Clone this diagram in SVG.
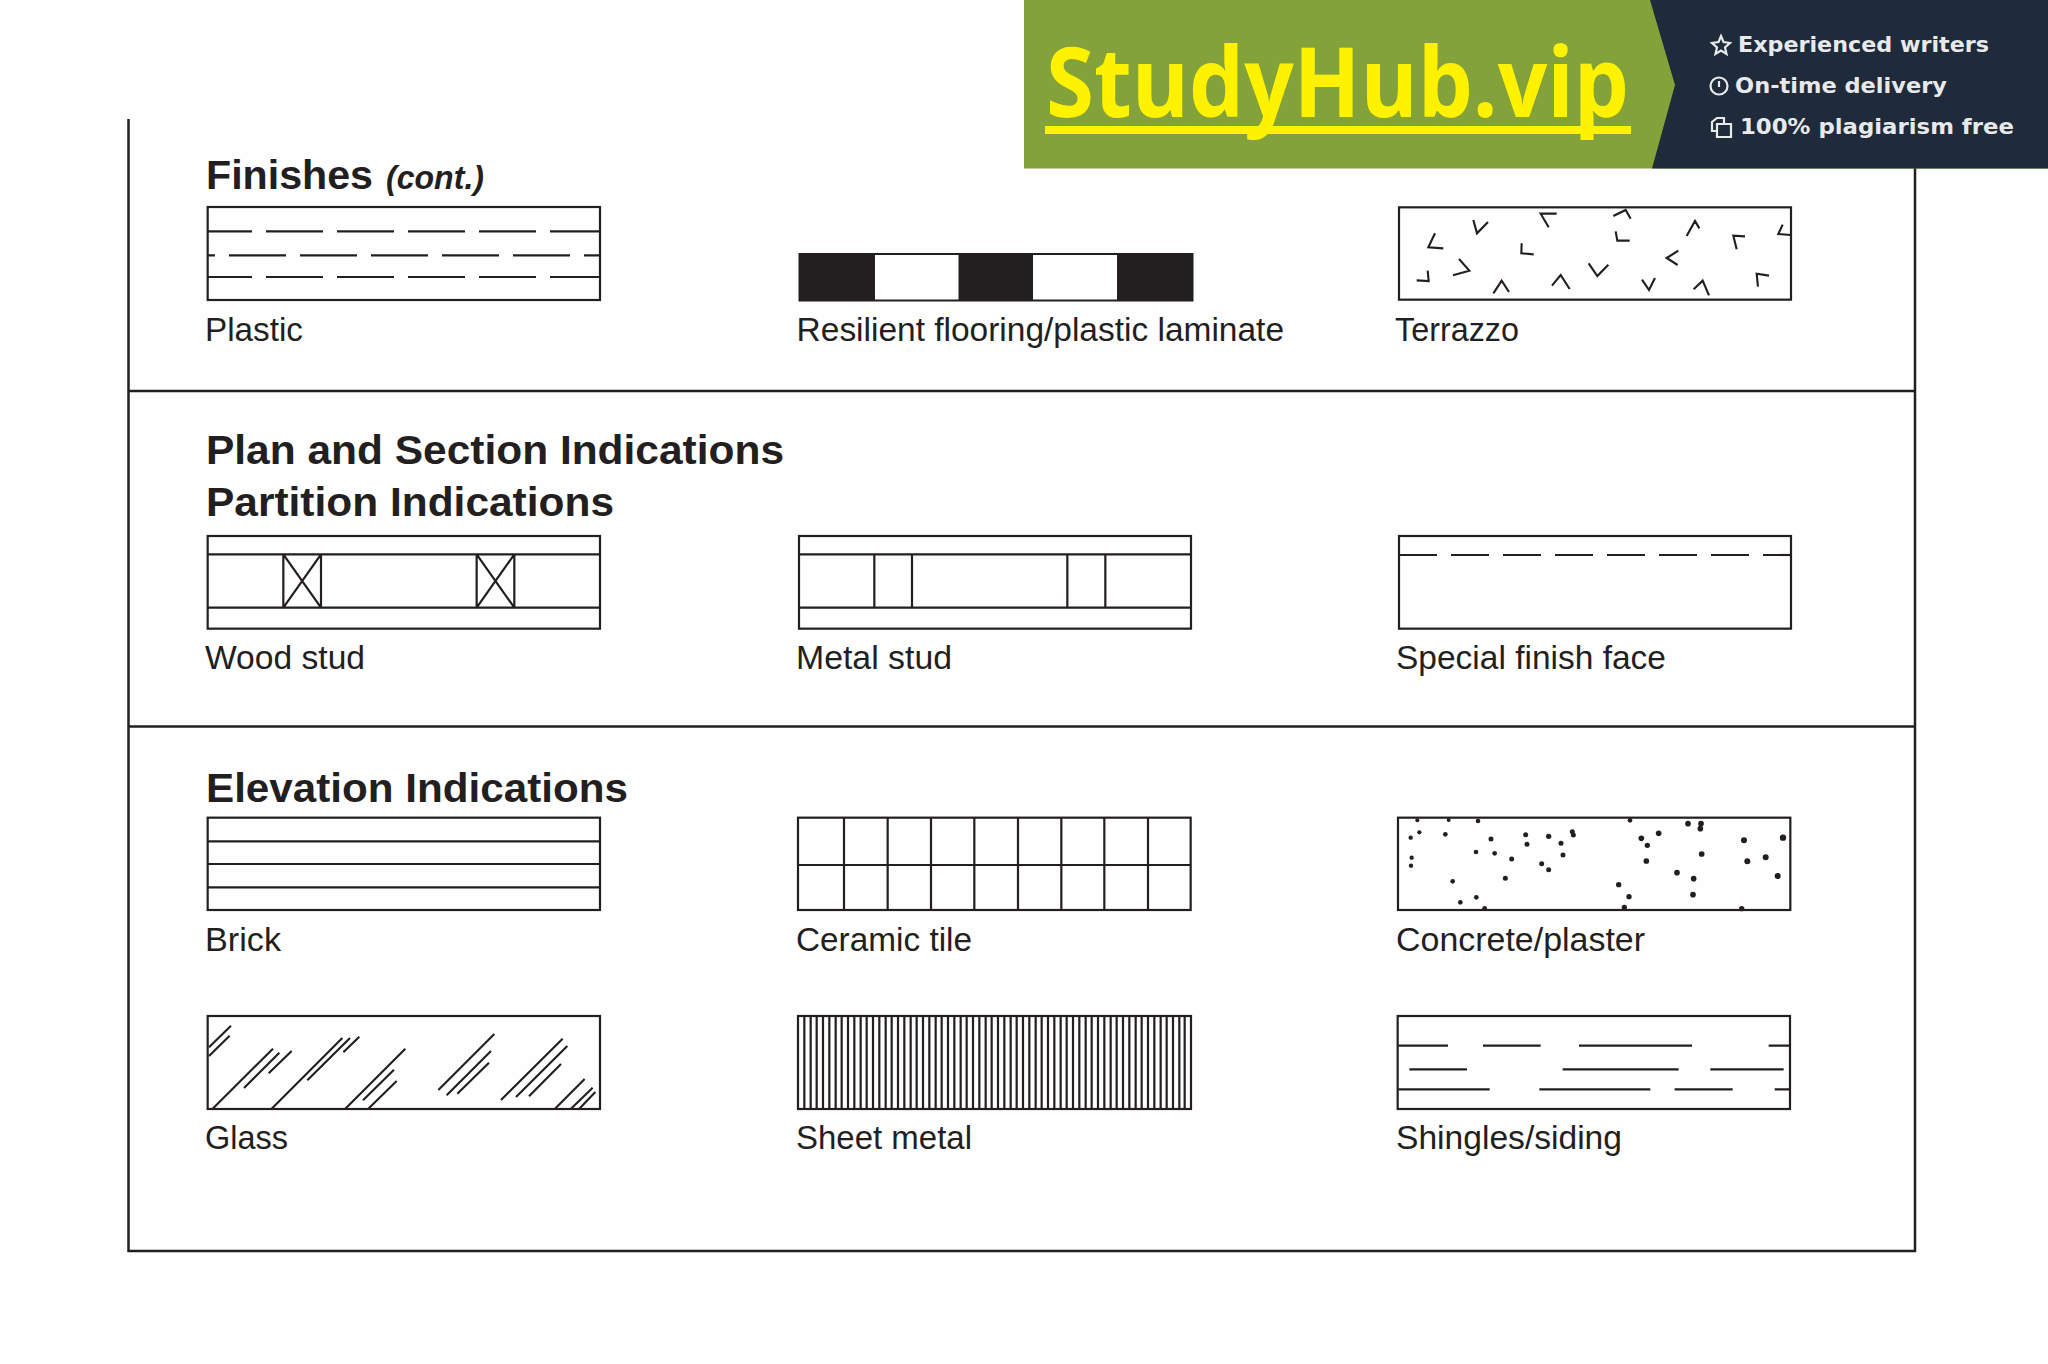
<svg xmlns="http://www.w3.org/2000/svg" width="2048" height="1364" viewBox="0 0 2048 1364">
<style>
text{font-family:"Liberation Sans",Arial,sans-serif;fill:#231f20}
.lb{font-size:33px}
.hd{font-size:41.5px;font-weight:700}
.s{fill:none;stroke:#231f20;stroke-width:6.6}
.t{fill:none;stroke:#231f20;stroke-width:6.4}
.d{fill:#231f20;stroke:none}
.f{stroke:#231f20;stroke-width:2.5;fill:none}
.ban{font-family:"Open Sans","Noto Sans",sans-serif;font-weight:700}
.tag{font-family:"DejaVu Sans",Verdana,sans-serif;font-size:22px;fill:#e8e9ea}
.ic{fill:none;stroke:#e8e9ea;stroke-width:2.200}
</style>
<rect width="2048" height="1364" fill="#fefefe"/>
<g id="frame">
<path class="f" d="M128.500 119V1251H1915V168M128 391H1915M128 726.500H1915"/>
</g>
<g id="headings">
<text class="hd" x="206" y="188.500" textLength="167" lengthAdjust="spacingAndGlyphs">Finishes</text>
<text x="386" y="189" textLength="98" lengthAdjust="spacingAndGlyphs" style="font-size:33px;font-weight:700;font-style:italic">(cont.)</text>
<text class="hd" x="206" y="464" textLength="578" lengthAdjust="spacingAndGlyphs">Plan and Section Indications</text>
<text class="hd" x="206" y="516" textLength="408" lengthAdjust="spacingAndGlyphs">Partition Indications</text>
<text class="hd" x="206" y="801.500" textLength="422" lengthAdjust="spacingAndGlyphs">Elevation Indications</text>
</g>
<g id="plastic">
<g transform="translate(190 190) scale(.33333)">
<rect class="s" x="53" y="51" width="1177" height="279"/>
<path class="t" stroke-dasharray="171 42" stroke-dashoffset="38" d="M53 124H1230M53 261H1230"/>
<path class="t" stroke-dasharray="171 42" stroke-dashoffset="149" d="M53 196H1230"/>
</g>
<text class="lb" x="205" y="341" textLength="98" lengthAdjust="spacingAndGlyphs">Plastic</text>
</g>
<g id="resilient">
<rect x="799.500" y="254" width="393" height="46.500" fill="#fff" stroke="#231f20" stroke-width="2"/>
<rect class="d" x="799.500" y="254" width="75.500" height="46.500"/>
<rect class="d" x="958.500" y="254" width="74.500" height="46.500"/>
<rect class="d" x="1117" y="254" width="75.500" height="46.500"/>
<text class="lb" x="796.600" y="341" textLength="487.400" lengthAdjust="spacingAndGlyphs">Resilient flooring/plastic laminate</text>
</g>
<g id="terrazzo">
<g transform="translate(1380 190) scale(.33333)">
<rect class="s" x="57" y="52" width="1176" height="277"/>
<path class="t" d="M165 130L145 172L190 175M280 90L291 130L324 96M530 71L482 71L506 112M700 78L737 60L752 86M707 124L712 152L749 152M425 160L424 190L461 193M920 138L945 93L958 115M1095 139L1060 137L1070 178M1208 104L1195 132L1232 135M895 182L860 204L893 225M237 207L268 242L219 256M143 242L146 273L110 271M340 310L365 272L387 306M516 287L542 255L569 297M626 220L652 258L685 224M786 269L807 300L825 264M941 298L968 272L987 316M1134 290L1130 251L1167 257"/>
</g>
<text class="lb" x="1395" y="341" textLength="124" lengthAdjust="spacingAndGlyphs">Terrazzo</text>
</g>
<g id="wood-stud">
<g transform="translate(190 520) scale(.33333)">
<rect class="s" x="53" y="48" width="1177" height="278"/>
<path class="s" d="M53 103H1230M53 263H1230M280 103V263H393V103M280 103L393 263M393 103L280 263M860 103V263H973V103M860 103L973 263M973 103L860 263"/>
</g>
<text class="lb" x="205" y="669" textLength="160" lengthAdjust="spacingAndGlyphs">Wood stud</text>
</g>
<g id="metal-stud">
<g transform="translate(780 520) scale(.33333)">
<rect class="s" x="57" y="48" width="1176" height="278"/>
<path class="s" d="M57 103H1233M57 263H1233M283 103V263M396 103V263M862 103V263M976 103V263"/>
</g>
<text class="lb" x="796" y="669" textLength="156" lengthAdjust="spacingAndGlyphs">Metal stud</text>
</g>
<g id="special-finish">
<g transform="translate(1380 520) scale(.33333)">
<rect class="s" x="57" y="48" width="1176" height="278"/>
<path class="t" stroke-dasharray="114 42" d="M57 105H1233"/>
</g>
<text class="lb" x="1396" y="669" textLength="270" lengthAdjust="spacingAndGlyphs">Special finish face</text>
</g>
<g id="brick">
<g transform="translate(190 800) scale(.33333)">
<rect class="s" x="53" y="53" width="1177" height="277"/>
<path class="s" d="M53 124H1230M53 192H1230M53 262H1230"/>
</g>
<text class="lb" x="205" y="950.500" textLength="76" lengthAdjust="spacingAndGlyphs">Brick</text>
</g>
<g id="ceramic-tile">
<g transform="translate(780 800) scale(.33333)">
<rect class="s" x="54" y="53" width="1178" height="277"/>
<path class="s" d="M54 195H1232M192 53V330M323 53V330M453 53V330M583 53V330M714 53V330M844 53V330M973 53V330M1104 53V330"/>
</g>
<text class="lb" x="796" y="950.500" textLength="176" lengthAdjust="spacingAndGlyphs">Ceramic tile</text>
</g>
<g id="concrete-plaster">
<g transform="translate(1380 800) scale(.33333)">
<rect class="s" x="54" y="53" width="1177" height="277"/>
<g class="d">
<circle cx="112" cy="61" r="6"/><circle cx="206" cy="60" r="6"/><circle cx="294" cy="63" r="7"/><circle cx="750" cy="61" r="7"/><circle cx="924" cy="71" r="8.500"/><circle cx="963" cy="71" r="8.500"/><circle cx="961" cy="86" r="8.500"/><circle cx="118" cy="97" r="6.500"/><circle cx="92" cy="113" r="6.500"/><circle cx="196" cy="103" r="7"/><circle cx="333" cy="117" r="7.500"/><circle cx="437" cy="104" r="7.500"/><circle cx="441" cy="133" r="7.500"/><circle cx="506" cy="109" r="8"/><circle cx="543" cy="130" r="7.500"/><circle cx="577" cy="95" r="7.500"/><circle cx="580" cy="105" r="7.500"/><circle cx="784" cy="115" r="8.500"/><circle cx="802" cy="136" r="8"/><circle cx="836" cy="100" r="8.500"/><circle cx="1092" cy="121" r="9"/><circle cx="1209" cy="113" r="9.500"/><circle cx="288" cy="156" r="7"/><circle cx="344" cy="160" r="7"/><circle cx="395" cy="177" r="7.500"/><circle cx="549" cy="165" r="7.500"/><circle cx="485" cy="191" r="7.500"/><circle cx="506" cy="209" r="7.500"/><circle cx="95" cy="173" r="6.500"/><circle cx="93" cy="197" r="6.500"/><circle cx="799" cy="183" r="8.500"/><circle cx="965" cy="162" r="8.500"/><circle cx="1102" cy="184" r="9"/><circle cx="1157" cy="172" r="9"/><circle cx="891" cy="218" r="8.500"/><circle cx="941" cy="236" r="8.500"/><circle cx="1193" cy="228" r="9"/><circle cx="218" cy="244" r="7"/><circle cx="376" cy="235" r="7.500"/><circle cx="716" cy="254" r="8"/><circle cx="747" cy="290" r="8"/><circle cx="939" cy="284" r="8.500"/><circle cx="289" cy="292" r="7"/><circle cx="241" cy="307" r="7"/><circle cx="314" cy="325" r="7"/><circle cx="733" cy="322" r="8"/><circle cx="1085" cy="326" r="8"/>
</g>
</g>
<text class="lb" x="1396" y="950.500" textLength="249" lengthAdjust="spacingAndGlyphs">Concrete/plaster</text>
</g>
<g id="glass">
<g transform="translate(190 1000) scale(.33333)">
<rect class="s" x="53" y="48" width="1177" height="279"/>
<path class="t" d="M57 142L123 77M57 168L119 107M68 326L249 146M162 264L268 158M236 220L305 153M245 326L457 114M352 241L480 114M460 157L508 110M466 326L646 146M519 301L612 209M535 326L620 243M745 270L913 102M770 286L903 153M802 281L897 188M933 300L1118 116M978 291L1132 138M1017 289L1113 192M1095 326L1184 237M1143 326L1208 263M1168 326L1216 276"/>
</g>
<text class="lb" x="205" y="1149" textLength="83" lengthAdjust="spacingAndGlyphs">Glass</text>
</g>
<g id="sheet-metal">
<g transform="translate(780 1000) scale(.33333)">
<rect class="s" x="54" y="48" width="1179" height="279"/>
<path class="s" d="M73 48V327M92 48V327M110 48V327M129 48V327M148 48V327M167 48V327M185 48V327M204 48V327M223 48V327M242 48V327M260 48V327M279 48V327M298 48V327M317 48V327M335 48V327M354 48V327M373 48V327M392 48V327M410 48V327M429 48V327M448 48V327M467 48V327M485 48V327M504 48V327M523 48V327M542 48V327M560 48V327M579 48V327M598 48V327M617 48V327M635 48V327M654 48V327M673 48V327M692 48V327M710 48V327M729 48V327M748 48V327M767 48V327M785 48V327M804 48V327M823 48V327M842 48V327M860 48V327M879 48V327M898 48V327M917 48V327M935 48V327M954 48V327M973 48V327M992 48V327M1010 48V327M1029 48V327M1048 48V327M1067 48V327M1085 48V327M1104 48V327M1123 48V327M1142 48V327M1160 48V327M1179 48V327M1198 48V327M1214 48V327"/>
</g>
<text class="lb" x="796" y="1149" textLength="176" lengthAdjust="spacingAndGlyphs">Sheet metal</text>
</g>
<g id="shingles-siding">
<g transform="translate(1380 1000) scale(.33333)">
<rect class="s" x="53" y="48" width="1177" height="279"/>
<path class="t" d="M55 137H204M309 137H482M597 137H936M1166 137H1230M88 208H261M548 208H896M991 208H1211M55 268H329M478 268H811M884 268H1058M1184 268H1230"/>
</g>
<text class="lb" x="1396" y="1149" textLength="226" lengthAdjust="spacingAndGlyphs">Shingles/siding</text>
</g>
<g id="banner">
<rect x="1024" y="0" width="1024" height="168.500" fill="#83a23a"/>
<path d="M1650 0H2048V168.500H1652L1675 85Z" fill="#1f2a3b"/>
<text class="ban" x="1046" y="117" font-size="96" style="fill:#fff200" textLength="583" lengthAdjust="spacingAndGlyphs">StudyHub.vip</text>
<rect x="1045" y="126" width="586" height="8" fill="#fff200"/>
<path class="ic" d="M1721 36L1723.500 42L1730 43L1725 47.500L1726.500 54L1721 50.500L1715.500 54L1717 47.500L1712 43L1718.500 42Z"/>
<text class="tag" font-weight="700" x="1738" y="52" textLength="251" lengthAdjust="spacingAndGlyphs">Experienced writers</text>
<circle class="ic" cx="1719" cy="86" r="8.500"/><path class="ic" d="M1719 81V87"/>
<text class="tag" font-weight="700" x="1735" y="93" textLength="212" lengthAdjust="spacingAndGlyphs">On-time delivery</text>
<path class="ic" d="M1717 124H1731V137H1717ZM1717 131H1712V122L1717 118H1724V124"/>
<text class="tag" font-weight="700" x="1740" y="134" textLength="274" lengthAdjust="spacingAndGlyphs">100% plagiarism free</text>
</g>
</svg>
